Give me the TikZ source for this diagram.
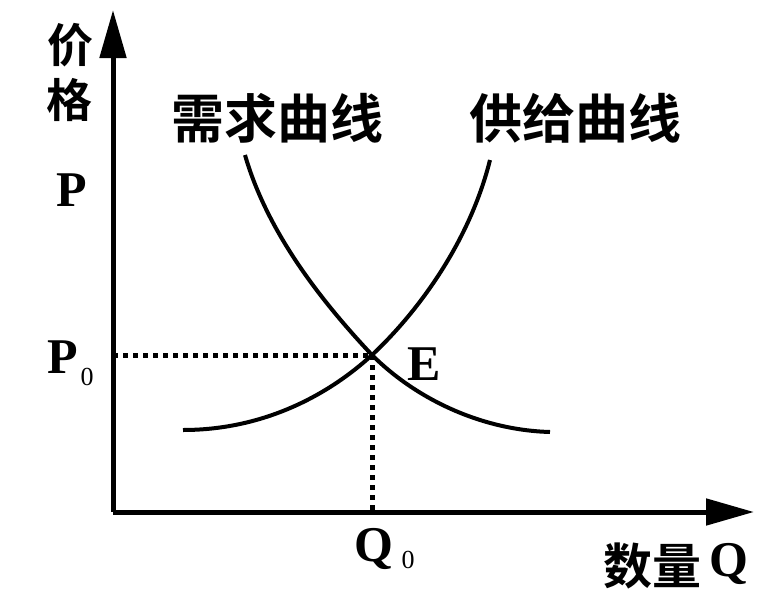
\documentclass[tikz,border=0pt]{standalone}
\usepackage{fontspec}
\setmainfont{Liberation Serif}
\newfontfamily\cjk{Noto Sans CJK SC}[BoldFont={* Bold}]
\usetikzlibrary{arrows.meta}
\tikzset{
  axis/.style={line width=5pt, -{Triangle[length=48pt,width=26pt]}},
  curve/.style={line width=4pt},
  guide/.style={line width=5pt, dash pattern=on 5pt off 5pt},
  hanzi/.style={font=\cjk\bfseries\fontsize{46}{46}\selectfont, inner sep=0pt},
  bighanzi/.style={hanzi, font=\cjk\bfseries\fontsize{53}{53}\selectfont},
  letter/.style={font=\bfseries\fontsize{50}{50}\selectfont, inner sep=0pt},
  sub/.style={font=\fontsize{26}{26}\selectfont, inner sep=0pt}
}
\begin{document}
\begin{tikzpicture}[x=1pt, y=-1pt]
\useasboundingbox (0,0) rectangle (766,608);
% axes
\coordinate (O) at (113,512);
\coordinate (ytip) at (113,10);
\coordinate (xtip) at (754,512);
\draw [axis] (O) -- (ytip);
\draw [axis] (O) -- (xtip);
% equilibrium
\coordinate (E) at (372,355);
\coordinate (P0axis) at (113,355);
\coordinate (Q0axis) at (372,512);
\draw [guide] (P0axis) -- (E);
\draw [guide] (E) -- (Q0axis);
% demand curve
\coordinate (d1) at (245,155);
\coordinate (d2) at (550,432);
\draw [curve] (d1) .. controls (268,235) and (325,305) .. (E)
  .. controls (415,398) and (480,430) .. (d2);
% supply curve
\coordinate (s1) at (183,430);
\coordinate (s2) at (490,160);
\draw [curve] (s1) .. controls (260,430) and (325,398) .. (E)
  .. controls (420,310) and (470,240) .. (s2);
% labels
\node [hanzi] (jia) at (70,45) {价};
\node [hanzi] (ge) at (69,100) {格};
\node [bighanzi] (xuqiu) at (277,118) {需求曲线};
\node [bighanzi] (gongji) at (575,118) {供给曲线};
\node [letter] (P) at (72,190) {P};
\node [letter] (P0) at (63,357) {P};
\node [sub] (P0sub) at (87,377) {0};
\node [letter] (Elabel) at (424,364) {E};
\node [letter] (Q0) at (374,549) {Q};
\node [sub] (Q0sub) at (408,560) {0};
\node [hanzi, font=\cjk\bfseries\fontsize{49}{49}\selectfont] (shuliang) at (652,566) {数量};
\node [letter] (Q) at (729,564) {Q};
\end{tikzpicture}
\end{document}
